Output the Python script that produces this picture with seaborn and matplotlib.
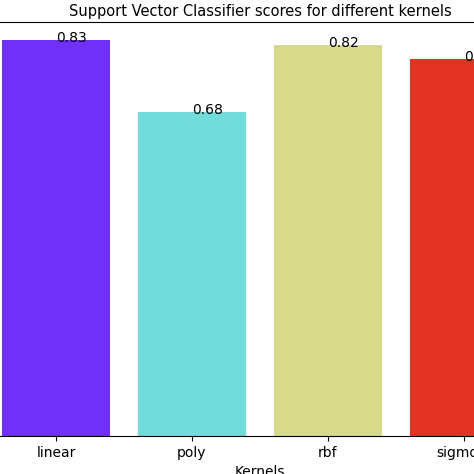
import matplotlib
matplotlib.use('Agg')
import matplotlib.pyplot as plt
import seaborn as sns

# scores
kernels = ['linear', 'poly', 'rbf', 'sigmoid']
scores = [0.83, 0.68, 0.82, 0.79]
colors = ['#7030f8', '#72dcdc', '#d6da8a', '#e23322']

fig = plt.figure(figsize=(4.74, 4.74), dpi=100)
# axes runs slightly past the figure edges, as in the reference crop
ax = fig.add_axes([-12 / 474, 38 / 474, 544 / 474, 414 / 474])
sns.barplot(x=kernels, y=scores, hue=kernels, palette=colors, legend=False, ax=ax, saturation=1)
ax.set_ylim(0, 0.868)

for i, s in enumerate(scores):
    ax.text(i, s + 0.004, str(s), ha='left', va='center', fontsize=10)

ax.set_title('Support Vector Classifier scores for different kernels', fontsize=10.5, pad=4)
ax.set_xlabel('Kernels', fontsize=10)
ax.set_ylabel('')
ax.tick_params(labelsize=10)

fig.savefig('out.png', dpi=100)
